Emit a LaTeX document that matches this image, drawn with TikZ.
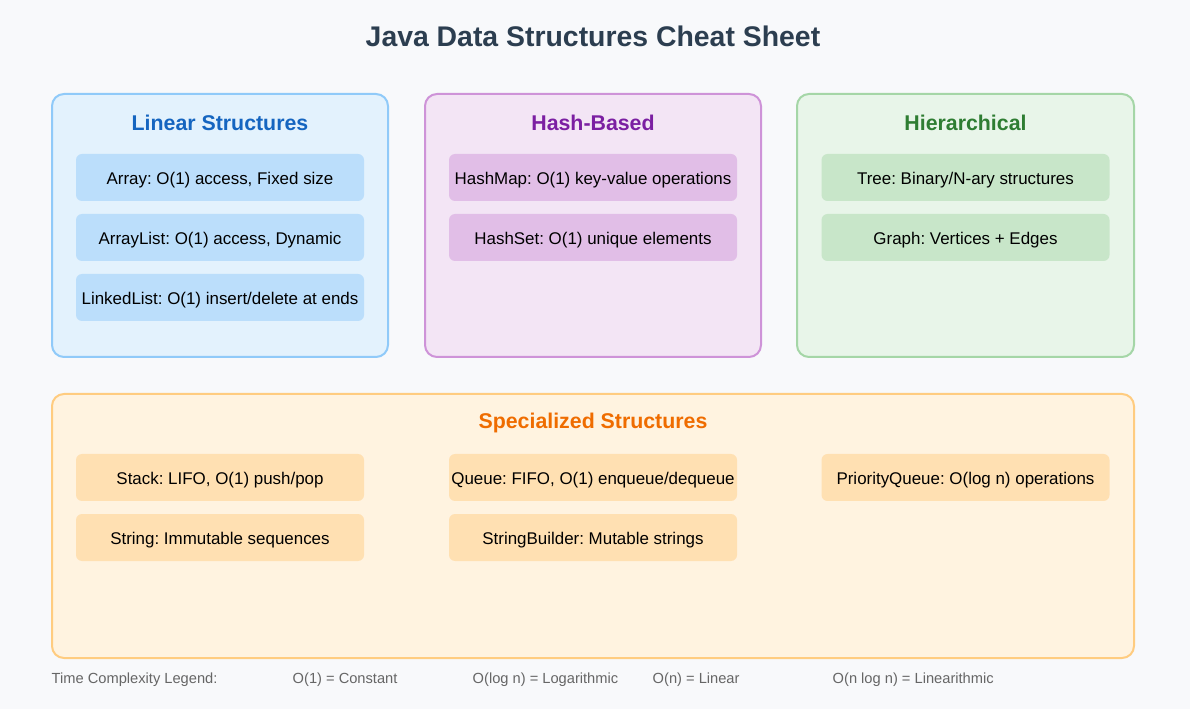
\documentclass[tikz,border=0pt]{standalone}
\usepackage{fontspec}
\setmainfont{Liberation Sans}
\usetikzlibrary{positioning}
\frenchspacing

\definecolor{pagebg}{HTML}{F8F9FB}
\definecolor{titlecol}{HTML}{2C3E50}
\definecolor{legendcol}{HTML}{666666}
% blue panel
\definecolor{linfill}{HTML}{E3F2FD}
\definecolor{linline}{HTML}{90CAF9}
\definecolor{linitem}{HTML}{BBDEFB}
\definecolor{linhead}{HTML}{1565C0}
% purple panel
\definecolor{hashfill}{HTML}{F3E5F5}
\definecolor{hashline}{HTML}{CE93D8}
\definecolor{hashitem}{HTML}{E1BEE7}
\definecolor{hashhead}{HTML}{7B1FA2}
% green panel
\definecolor{hierfill}{HTML}{E8F5E9}
\definecolor{hierline}{HTML}{A5D6A7}
\definecolor{hieritem}{HTML}{C8E6C9}
\definecolor{hierhead}{HTML}{2E7D32}
% orange panel
\definecolor{specfill}{HTML}{FFF3E0}
\definecolor{specline}{HTML}{FFCC80}
\definecolor{specitem}{HTML}{FFE0B2}
\definecolor{spechead}{HTML}{EF6C00}

\tikzset{
  panelbox/.style={rounded corners=9pt, line width=1.5pt},
  panelhead/.style={font=\fontsize{16}{19}\selectfont\bfseries},
  itembox/.style={rounded corners=4.5pt, minimum width=216pt, minimum height=35.25pt,
    inner sep=0pt, text height=11pt, text depth=1pt, font=\fontsize{12.7}{15}\selectfont, text=black},
  legendtext/.style={anchor=west, font=\fontsize{11}{13}\selectfont, text=legendcol}
}

\begin{document}
\begin{tikzpicture}[x=0.75pt, y=-0.75pt]
  % sayfa zemini (1190 x 709 piksel)
  \fill[pagebg] (0,0) rectangle (1190,709);
  \useasboundingbox (0,0) rectangle (1190,709);

  % baslik
  \node[font=\fontsize{21.3}{25}\selectfont\bfseries, text=titlecol] (title) at (593,36) {Java Data Structures Cheat Sheet};

  % ust paneller
  \draw[panelbox, fill=linfill, draw=linline] (52,94) rectangle (388,357);
  \draw[panelbox, fill=hashfill, draw=hashline] (425,94) rectangle (761,357);
  \draw[panelbox, fill=hierfill, draw=hierline] (797,94) rectangle (1134,357);
  % alt panel
  \draw[panelbox, fill=specfill, draw=specline] (52,394) rectangle (1134,658);

  % panel basliklari
  \node[panelhead, text=linhead] (linear) at (220,123) {Linear Structures};
  \node[panelhead, text=hashhead] (hash) at (593,123) {Hash-Based};
  \node[panelhead, text=hierhead] (hier) at (965.5,123) {Hierarchical};
  \node[panelhead, text=spechead] (special) at (593,423) {Specialized Structures};

  % Linear Structures
  \node[itembox, fill=linitem] (array) at (220,177.5) {Array: O(1) access, Fixed size};
  \node[itembox, fill=linitem] (arraylist) at (220,237.5) {ArrayList: O(1) access, Dynamic};
  \node[itembox, fill=linitem] (linkedlist) at (220,297.5) {LinkedList: O(1) insert/delete at ends};

  % Hash-Based
  \node[itembox, fill=hashitem] (hashmap) at (593,177.5) {HashMap: O(1) key-value operations};
  \node[itembox, fill=hashitem] (hashset) at (593,237.5) {HashSet: O(1) unique elements};

  % Hierarchical
  \node[itembox, fill=hieritem] (tree) at (965.5,177.5) {Tree: Binary/N-ary structures};
  \node[itembox, fill=hieritem] (graph) at (965.5,237.5) {Graph: Vertices + Edges};

  % Specialized Structures
  \node[itembox, fill=specitem] (stack) at (220,477.5) {Stack: LIFO, O(1) push/pop};
  \node[itembox, fill=specitem] (string) at (220,537.5) {String: Immutable sequences};
  \node[itembox, fill=specitem] (queue) at (593,477.5) {Queue: FIFO, O(1) enqueue/dequeue};
  \node[itembox, fill=specitem] (builder) at (593,537.5) {StringBuilder: Mutable strings};
  \node[itembox, fill=specitem] (pqueue) at (965.5,477.5) {PriorityQueue: O(log n) operations};

  % zaman karmasikligi aciklamasi
  \node[legendtext] (legend) at (47,679.5) {Time Complexity Legend:};
  \foreach \x/\name/\txt in {288/lgone/O(1) = Constant, 468/lglog/O(log n) = Logarithmic,
      648/lgn/O(n) = Linear, 828/lgnlog/O(n log n) = Linearithmic}
    \node[legendtext] (\name) at (\x,679.5) {\txt};
\end{tikzpicture}
\end{document}
